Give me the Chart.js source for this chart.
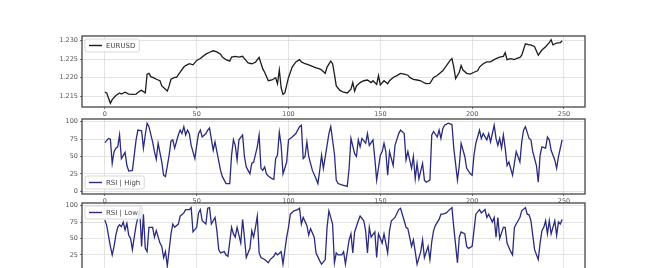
<!DOCTYPE html>
<html>
<head>
<meta charset="utf-8">
<script src="https://cdn.jsdelivr.net/npm/chart.js@4.4.0/dist/chart.umd.min.js"></script>
<style>
	html, body { margin:0; padding:0; background:#fff; overflow:hidden; }
</style>
</head>
<body>
<script>
// data (indeks, nilai)
const eurX = [0,1,3,4,6,8,9,11,13,15,17,19,20,22,23,24,25,27,28,30,31,33,34,35,36,38,39,41,43,44,46,48,50,52,53,55,57,59,61,63,64,66,68,69,71,73,75,76,78,80,82,84,86,87,89,91,93,94,95,96,97,98,100,102,104,106,107,109,111,113,115,117,118,120,121,123,124,125,126,128,130,132,134,135,136,137,139,141,143,145,146,148,149,150,152,154,155,157,159,161,163,165,166,168,170,172,174,175,177,179,181,183,184,186,188,189,190,191,193,194,195,197,199,201,203,204,206,208,210,212,213,215,217,218,219,221,223,224,226,227,229,231,232,234,236,238,240,242,243,244,246,248,249]
const eurY = [1.2161,1.2159,1.2131,1.2141,1.2152,1.2159,1.2156,1.2161,1.2156,1.2155,1.2156,1.2164,1.2166,1.2159,1.2210,1.2212,1.2203,1.2199,1.2196,1.2192,1.2178,1.2169,1.2164,1.2178,1.2196,1.2201,1.2201,1.2215,1.2229,1.2233,1.2238,1.2235,1.2247,1.2252,1.2256,1.2264,1.2269,1.2273,1.2270,1.2264,1.2256,1.2249,1.2245,1.2256,1.2258,1.2256,1.2258,1.2252,1.2240,1.2238,1.2242,1.2255,1.2224,1.2215,1.2192,1.2194,1.2200,1.2184,1.2221,1.2173,1.2155,1.2159,1.2201,1.2229,1.2243,1.2249,1.2243,1.2238,1.2235,1.2231,1.2227,1.2224,1.2221,1.2212,1.2229,1.2245,1.2238,1.2210,1.2178,1.2166,1.2161,1.2159,1.2169,1.2187,1.2164,1.2178,1.2187,1.2192,1.2194,1.2187,1.2192,1.2182,1.2206,1.2181,1.2192,1.2184,1.2192,1.2201,1.2206,1.2212,1.2210,1.2207,1.2201,1.2196,1.2194,1.2192,1.2186,1.2184,1.2185,1.2201,1.2206,1.2215,1.2219,1.2233,1.2247,1.2252,1.2229,1.2198,1.2215,1.2233,1.2221,1.2212,1.2210,1.2215,1.2219,1.2229,1.2238,1.2243,1.2243,1.2249,1.2252,1.2256,1.2258,1.2268,1.2249,1.2252,1.2249,1.2252,1.2255,1.2261,1.2292,1.2289,1.2289,1.2284,1.2261,1.2275,1.2284,1.2295,1.2303,1.2289,1.2294,1.2295,1.2300]

const rsiHighX = [0,2,3,4,5,6,7,8,9,11,12,13,15,16,17,18,20,21,22,23,24,26,27,28,29,31,32,33,35,36,37,38,40,41,42,43,44,45,46,47,49,50,51,52,53,55,56,57,59,60,61,63,64,66,68,69,70,71,72,73,75,76,77,79,80,81,83,84,85,86,87,88,89,91,92,93,94,95,96,97,99,100,102,104,106,107,108,109,110,111,113,115,116,117,118,119,121,122,123,125,126,127,129,132,133,134,136,137,138,139,140,142,143,144,146,147,148,150,151,152,153,154,155,157,158,160,161,163,164,165,167,168,169,170,171,173,174,175,177,178,179,181,182,183,184,185,187,189,190,192,193,194,196,197,199,200,201,202,204,205,206,208,209,210,212,213,214,215,216,217,218,219,220,222,223,224,226,227,228,229,231,232,233,235,236,237,238,240,241,242,243,245,246,247,249]
const rsiHighY = [70,76,75,40,57,62,64,81,47,56,37,29,30,52,74,88,87,62,81,98,93,71,57,46,69,42,23,21,52,72,74,62,81,88,83,93,81,88,83,66,47,66,83,88,78,83,88,91,59,71,57,30,21,11,11,52,74,66,45,74,81,50,35,25,40,42,64,81,33,30,35,25,22,18,17,47,52,85,66,25,42,74,78,83,93,95,47,50,71,50,30,18,11,30,52,33,66,83,93,54,16,11,9,7,33,76,54,50,74,64,76,69,83,66,74,47,16,52,57,69,57,23,57,37,66,83,88,83,45,57,33,50,18,40,18,40,16,13,16,81,86,78,88,76,90,95,98,96,62,16,37,69,50,33,25,23,52,69,88,76,83,74,83,71,95,76,66,76,62,81,62,37,42,23,40,57,42,71,88,93,76,74,57,37,13,52,64,62,78,74,59,45,33,50,74]

const rsiLowX = [0,1,3,4,5,6,7,8,9,10,11,12,13,14,15,16,17,18,19,20,21,22,23,24,26,27,28,30,31,32,33,34,36,37,38,40,41,43,44,46,47,48,50,51,52,53,55,56,57,58,60,61,62,63,65,66,67,69,70,71,72,74,75,76,77,79,80,81,82,83,84,85,87,89,90,92,93,94,96,97,99,100,101,103,105,106,107,108,110,111,112,114,115,117,118,120,121,122,124,125,126,127,129,130,131,133,134,135,136,138,139,141,142,143,144,145,147,148,149,151,152,154,155,156,158,160,161,163,164,165,167,168,169,170,172,173,174,176,177,178,179,180,182,183,184,186,187,189,190,192,193,194,196,197,198,200,201,202,204,205,207,208,209,211,212,213,214,215,217,218,219,221,222,223,225,226,227,229,230,231,232,234,236,237,238,239,240,241,242,243,245,246,247,248,249]
const rsiLowY = [78,70,38,25,38,55,67,71,68,75,63,73,55,50,33,52,70,82,94,38,87,35,30,67,67,52,62,43,38,21,30,8,57,72,67,72,84,89,94,94,97,60,67,89,94,77,72,96,97,72,82,62,33,28,30,25,23,67,57,52,67,43,79,52,21,35,62,52,67,84,28,21,18,13,18,23,28,25,30,11,52,67,87,92,94,96,72,82,70,55,65,52,28,16,11,18,67,92,72,13,28,25,25,30,11,48,57,28,60,77,84,77,62,28,67,52,60,21,57,43,57,28,62,77,82,94,96,77,67,65,38,48,30,11,30,48,21,38,18,45,62,70,79,87,87,89,92,97,67,13,52,60,57,38,35,38,62,87,94,89,94,82,87,75,82,52,82,50,67,67,43,30,25,67,77,82,92,97,87,86,77,33,18,43,62,67,77,57,77,57,77,55,75,72,79]

const xTicks = [0,50,100,150,200,250]
const eurTicks = [1.215,1.220,1.225,1.230]
const rsiTicks = [0,25,50,75,100]

const el = ({a, b, d = {}}) => {
	const c = document.createElement(a)
	Object.keys(d).forEach(k => c.setAttribute(k, d[k]))
	b.appendChild(c)
	return c
}

// bingkai + legenda ala matplotlib
const bingkai = {
	id: 'bingkai',
	afterDraw(c) {
		const {ctx, chartArea:r} = c
		const o = c.options.plugins.bingkai
		ctx.save()
		ctx.strokeStyle = '#444'
		ctx.lineWidth = 1.3
		ctx.strokeRect(r.left, r.top, r.right - r.left, r.bottom - r.top)

		ctx.font = '7px "DejaVu Sans"'
		const ds = c.data.datasets[0]
		const tw = ctx.measureText(ds.label).width
		const w = 25 + tw, h = 13
		const x = r.left + 3
		const y = o.pos == 'bawah' ? r.bottom - 5 - h : r.top + 3
		ctx.fillStyle = 'rgba(255,255,255,0.85)'
		ctx.strokeStyle = '#cfcfcf'
		ctx.lineWidth = 0.8
		ctx.beginPath()
		ctx.roundRect(x, y, w, h, 2)
		ctx.fill()
		ctx.stroke()
		ctx.strokeStyle = ds.borderColor
		ctx.lineWidth = 1.4
		ctx.beginPath()
		ctx.moveTo(x + 4, y + h/2)
		ctx.lineTo(x + 17, y + h/2)
		ctx.stroke()
		ctx.fillStyle = '#444'
		ctx.textBaseline = 'middle'
		ctx.fillText(ds.label, x + 21, y + h/2 + 0.5)
		ctx.restore()
	}
}

const panel = (a, p) => {
	const b = el({a:'canvas', b:a, d:{style:`position:absolute; left:0; top:${p.top}px;`}})
	b.width = 650
	b.height = p.tinggi

	return new Chart(b, {
		type: 'line',
		data: {
			datasets: [{
				label: p.label,
				data: p.xs.map((x, i) => ({x, y:p.ys[i]})),
				borderColor: p.warna,
				borderWidth: 1.3,
				pointRadius: 0,
				tension: 0,
				fill: false,
			}]
		},
		options: {
			responsive: false,
			animation: false,
			layout: { padding: {top:p.padTop, right:65, bottom:0, left:0} },
			plugins: {
				legend: { display:false },
				tooltip: { enabled:false },
				bingkai: { pos:p.pos },
			},
			scales: {
				x: {
					type: 'linear',
					min: -12.45,
					max: 261.45,
					afterBuildTicks: s => { s.ticks = xTicks.map(value => ({value})) },
					afterFit: s => { s.height = 20 },
					grid: { color:'#dcdcdc', lineWidth:0.8, tickLength:2, tickColor:'#555' },
					border: { display:false },
					ticks: { color:'#555', padding:1.5, font:{ size:6.5, family:'DejaVu Sans' }, maxRotation:0 },
				},
				y: {
					min: p.ymin,
					max: p.ymax,
					afterBuildTicks: s => { s.ticks = p.ticks.map(value => ({value})) },
					afterFit: s => { s.width = 82 },
					grid: { color:'#dcdcdc', lineWidth:0.8, tickLength:2, tickColor:'#555' },
					border: { display:false },
					ticks: { color:'#555', padding:2, font:{ size:6.5, family:'DejaVu Sans' }, callback:p.fmt },
				}
			}
		},
		plugins: [bingkai]
	})
}

(a => {
	panel(a, { top:0, tinggi:127, padTop:36, label:'EURUSD', warna:'#1c1c1c', xs:eurX, ys:eurY,
		ymin:1.2121, ymax:1.2313, ticks:eurTicks, fmt:v => v.toFixed(3), pos:'atas' })
	panel(a, { top:112, tinggi:102, padTop:7, label:'RSI | High', warna:'#2a2a7e', xs:rsiHighX, ys:rsiHighY,
		ymin:-4, ymax:104, ticks:rsiTicks, fmt:v => v, pos:'bawah' })
	panel(a, { top:196, tinggi:98, padTop:7, label:'RSI | Low', warna:'#2a2a7e', xs:rsiLowX, ys:rsiLowY,
		ymin:-4, ymax:104, ticks:rsiTicks, fmt:v => v, pos:'atas' })
})(el({a:'div', b:document.body, d:{style:'position:relative; width:650px; height:268px; overflow:hidden;'}}))
</script>
</body>
</html>
